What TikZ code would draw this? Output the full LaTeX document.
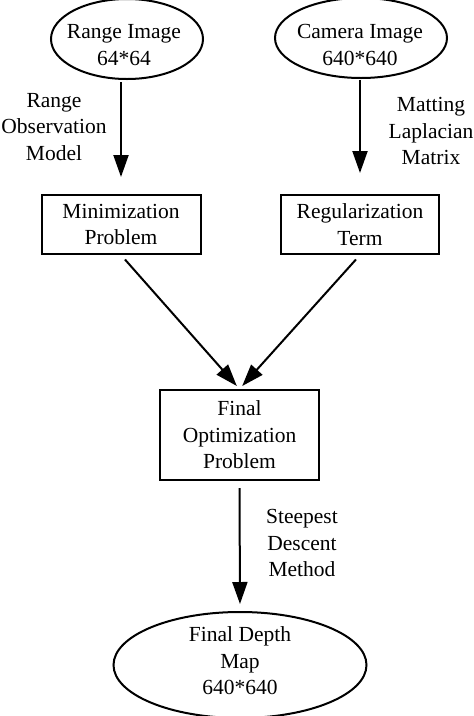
\documentclass[tikz,border=0pt]{standalone}
\usepackage{fontspec}
\setmainfont{Liberation Serif}
\usetikzlibrary{shapes.geometric}
\usetikzlibrary{arrows.meta}
\usetikzlibrary{positioning}

\begin{document}
\begin{tikzpicture}[x=1pt,y=-1pt,
	font=\fontsize{21.5}{26.5}\selectfont,
	every node/.style={align=center},
	ell/.style={draw,ellipse,line width=2pt,inner sep=0pt},
	box/.style={draw,rectangle,line width=2pt,inner sep=0pt},
	arr/.style={-{Triangle[length=22pt,width=15pt]},line width=2pt}]
	\useasboundingbox (0,0) rectangle (474,716);
	% ellipses and boxes
	\node[ell,minimum width=152pt,minimum height=80pt] (0) at (127, 39) {};
	\node[ell,minimum width=172pt,minimum height=80pt] (1) at (361, 38) {};
	\node[box,minimum width=159pt,minimum height=59pt] (2) at (121, 224.5) {};
	\node[box,minimum width=158pt,minimum height=59pt] (3) at (360, 224.5) {};
	\node[box,minimum width=159pt,minimum height=90pt] (4) at (239.5, 435) {};
	\node[ell,minimum width=253pt,minimum height=106pt] (5) at (240, 665) {};
	% texts
	\node (0t) at (124, 45) {Range Image\\64*64};
	\node (1t) at (360, 45) {Camera Image\\640*640};
	\node (2t) at (2) {Minimization\\Problem};
	\node (3t) at (3) {Regularization\\Term};
	\node (4t) at (4) {Final\\Optimization\\Problem};
	\node (5t) at (240, 661) {Final Depth\\Map\\640*640};
	\node (6) at (54, 127) {Range\\Observation\\Model};
	\node (7) at (431, 131) {Matting\\Laplacian\\Matrix};
	\node (8) at (302, 543) {Steepest\\Descent\\Method};
	% arrows
	\draw [arr, shorten <=2pt, shorten >=17pt] (0.south -| 2.north) -- (2.north);
	\draw [arr, shorten <=1pt, shorten >=21pt] (1.south -| 3.north) -- (3.north);
	\draw [arr, shorten <=6pt, shorten >=4pt] (2.south) -- (4.north);
	\draw [arr, shorten <=6pt, shorten >=4pt] (3.south) -- (4.north);
	\draw [arr, shorten <=7pt, shorten >=7pt] (4.south) -- (5.north);
\end{tikzpicture}
\end{document}
